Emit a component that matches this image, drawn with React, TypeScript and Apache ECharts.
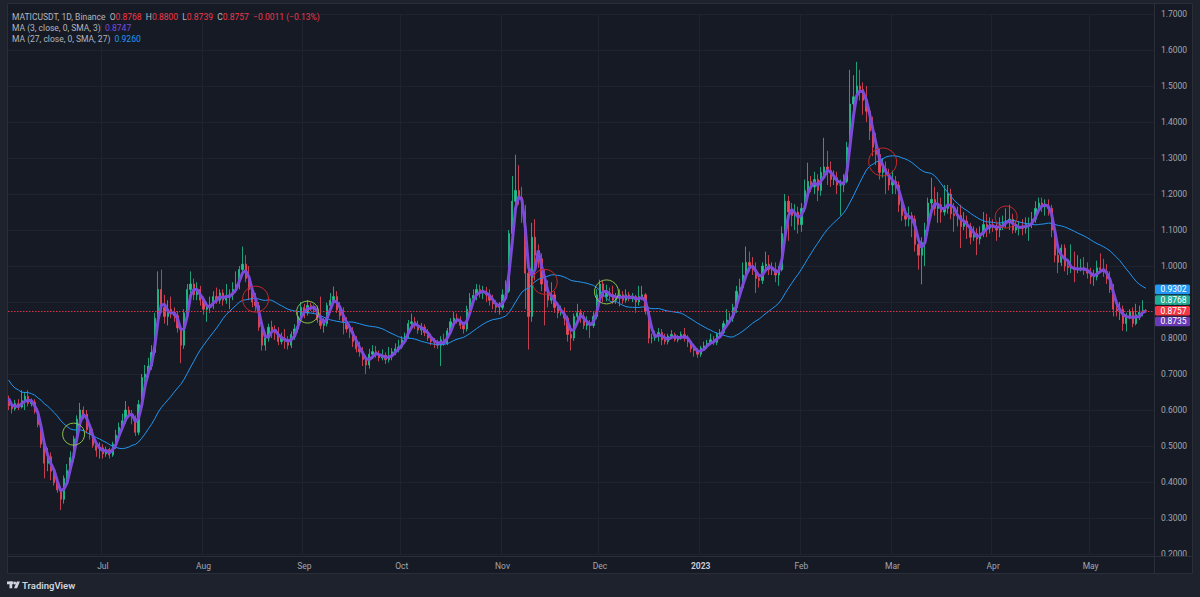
import React, { useEffect, useRef } from "react";
import * as echarts from "echarts";

// ---------- DATA ----------
const startDate = "2022-06-02";
const trailingEmptyDays = 2;

// closes before the first visible candle (May 7 – Jun 1 2022), used only for the moving averages
const warmupCloses = [
  0.96, 0.87, 0.74, 0.8, 0.65, 0.63, 0.7, 0.71, 0.76, 0.69, 0.72, 0.64, 0.67, 0.64, 0.65, 0.68,
  0.65, 0.65, 0.64, 0.59, 0.58, 0.6, 0.64, 0.69, 0.66, 0.625,
];

const closes = [
  // Jun 2 – Jun 30
  0.612, 0.603, 0.618, 0.608, 0.626, 0.638, 0.618, 0.622, 0.596, 0.56, 0.505, 0.452, 0.47, 0.43, 0.398, 0.378, 0.352, 0.41, 0.432, 0.468, 0.52, 0.575, 0.6, 0.588, 0.545, 0.532, 0.502, 0.488, 0.495,
  // Jul
  0.478, 0.49, 0.475, 0.505, 0.53, 0.552, 0.57, 0.6, 0.585, 0.58, 0.538, 0.615, 0.69, 0.7, 0.722, 0.76, 0.855, 0.935, 0.885, 0.86, 0.88, 0.868, 0.862, 0.828, 0.78, 0.87, 0.935, 0.95, 0.92, 0.935, 0.905,
  // Aug
  0.88, 0.885, 0.892, 0.915, 0.905, 0.925, 0.905, 0.918, 0.92, 0.935, 0.948, 0.99, 1.005, 0.965, 0.935, 0.9, 0.89, 0.83, 0.78, 0.8, 0.83, 0.822, 0.815, 0.79, 0.8, 0.795, 0.78, 0.81, 0.825, 0.86, 0.885,
  // Sep
  0.87, 0.89, 0.888, 0.88, 0.85, 0.835, 0.84, 0.89, 0.905, 0.915, 0.878, 0.862, 0.845, 0.825, 0.818, 0.79, 0.77, 0.762, 0.74, 0.725, 0.755, 0.762, 0.755, 0.745, 0.752, 0.74, 0.75, 0.762, 0.77, 0.775,
  // Oct
  0.795, 0.805, 0.84, 0.845, 0.835, 0.822, 0.83, 0.815, 0.8, 0.79, 0.788, 0.78, 0.795, 0.785, 0.82, 0.845, 0.855, 0.852, 0.835, 0.825, 0.88, 0.91, 0.918, 0.935, 0.925, 0.93, 0.92, 0.905, 0.895, 0.885, 0.885,
  // Nov
  0.92, 0.93, 1.09, 1.18, 1.21, 1.19, 1.15, 0.98, 0.86, 1.08, 1.03, 1.02, 0.95, 0.93, 0.905, 0.92, 0.885, 0.87, 0.875, 0.855, 0.81, 0.8, 0.86, 0.87, 0.86, 0.835, 0.84, 0.835, 0.86, 0.92,
  // Dec
  0.95, 0.915, 0.925, 0.92, 0.905, 0.915, 0.92, 0.905, 0.92, 0.91, 0.915, 0.9, 0.915, 0.92, 0.875, 0.8, 0.8, 0.81, 0.815, 0.795, 0.79, 0.805, 0.81, 0.795, 0.8, 0.81, 0.8, 0.79, 0.77, 0.765, 0.755,
  // Jan 2023
  0.772, 0.778, 0.785, 0.795, 0.788, 0.81, 0.815, 0.84, 0.85, 0.855, 0.885, 0.93, 0.94, 0.975, 1.01, 1.0, 0.99, 0.965, 0.96, 1.0, 1.005, 0.99, 0.99, 0.975, 0.99, 1.09, 1.18, 1.15, 1.14, 1.15, 1.115,
  // Feb
  1.16, 1.21, 1.235, 1.22, 1.24, 1.21, 1.26, 1.275, 1.265, 1.24, 1.245, 1.225, 1.225, 1.235, 1.33, 1.45, 1.47, 1.5, 1.49, 1.46, 1.43, 1.375, 1.33, 1.31, 1.26, 1.27, 1.255, 1.225,
  // Mar
  1.235, 1.225, 1.17, 1.14, 1.13, 1.14, 1.13, 1.06, 1.03, 1.065, 1.1, 1.175, 1.185, 1.16, 1.17, 1.15, 1.16, 1.2, 1.145, 1.14, 1.14, 1.11, 1.125, 1.11, 1.08, 1.09, 1.075, 1.09, 1.115, 1.105, 1.115,
  // Apr
  1.11, 1.1, 1.115, 1.12, 1.125, 1.13, 1.1, 1.11, 1.11, 1.105, 1.115, 1.115, 1.13, 1.16, 1.175, 1.165, 1.17, 1.16, 1.1, 1.03, 1.01, 1.05, 1.0, 0.995, 0.995, 0.99, 0.99, 0.995, 0.99, 0.98,
  // May 1 – May 18
  0.97, 0.97, 0.995, 0.99, 0.985, 0.965, 0.935, 0.88, 0.875, 0.88, 0.84, 0.86, 0.872, 0.84, 0.865, 0.8716, 0.8768, 0.8757,
];

const highs = [
  0.64, 0.62, 0.628, 0.63, 0.655, 0.65, 0.655, 0.632, 0.63, 0.605, 0.572, 0.512, 0.495, 0.482, 0.445, 0.412, 0.388, 0.418, 0.45, 0.485, 0.528, 0.585, 0.62, 0.61, 0.6, 0.562, 0.548, 0.512, 0.51,
  0.505, 0.498, 0.495, 0.512, 0.545, 0.565, 0.59, 0.625, 0.61, 0.6, 0.585, 0.628, 0.7, 0.725, 0.745, 0.78, 0.87, 0.985, 0.99, 0.92, 0.905, 0.915, 0.885, 0.875, 0.835, 0.88, 0.95, 0.985, 0.965, 0.955, 0.945,
  0.915, 0.9, 0.915, 0.93, 0.94, 0.935, 0.935, 0.95, 0.935, 0.955, 0.985, 1.0, 1.054, 1.03, 1.0, 0.945, 0.925, 0.9, 0.84, 0.815, 0.84, 0.848, 0.835, 0.83, 0.815, 0.825, 0.805, 0.818, 0.838, 0.875, 0.9,
  0.895, 0.905, 0.898, 0.893, 0.89, 0.915, 0.855, 0.898, 0.925, 0.943, 0.93, 0.9, 0.885, 0.858, 0.84, 0.83, 0.805, 0.79, 0.775, 0.752, 0.77, 0.78, 0.778, 0.765, 0.768, 0.76, 0.775, 0.772, 0.785, 0.795,
  0.805, 0.815, 0.85, 0.868, 0.858, 0.848, 0.842, 0.838, 0.825, 0.812, 0.8, 0.795, 0.805, 0.812, 0.828, 0.855, 0.872, 0.868, 0.86, 0.845, 0.89, 0.925, 0.935, 0.95, 0.948, 0.945, 0.942, 0.935, 0.92, 0.905, 0.9,
  0.935, 0.96, 1.1, 1.25, 1.309, 1.28, 1.22, 1.17, 1.01, 1.12, 1.13, 1.06, 1.035, 0.99, 0.96, 0.955, 0.93, 0.9, 0.89, 0.885, 0.862, 0.835, 0.868, 0.895, 0.88, 0.872, 0.86, 0.85, 0.872, 0.935,
  0.962, 0.958, 0.948, 0.94, 0.945, 0.925, 0.935, 0.93, 0.935, 0.928, 0.925, 0.92, 0.945, 0.945, 0.925, 0.885, 0.812, 0.82, 0.828, 0.825, 0.812, 0.812, 0.822, 0.815, 0.808, 0.818, 0.828, 0.808, 0.795, 0.78, 0.772,
  0.778, 0.79, 0.795, 0.812, 0.805, 0.815, 0.825, 0.848, 0.88, 0.87, 0.895, 0.945, 0.965, 1.01, 1.054, 1.04, 1.025, 1.01, 0.975, 1.01, 1.04, 1.03, 1.01, 1.01, 1.0, 1.11, 1.2, 1.195, 1.175, 1.172, 1.165,
  1.175, 1.24, 1.287, 1.25, 1.262, 1.255, 1.275, 1.356, 1.32, 1.29, 1.265, 1.262, 1.24, 1.255, 1.345, 1.545, 1.53, 1.567, 1.545, 1.51, 1.5, 1.44, 1.415, 1.37, 1.325, 1.3, 1.29, 1.27,
  1.265, 1.25, 1.235, 1.185, 1.16, 1.165, 1.15, 1.14, 1.075, 1.08, 1.12, 1.19, 1.245, 1.22, 1.205, 1.19, 1.225, 1.225, 1.215, 1.175, 1.165, 1.17, 1.15, 1.14, 1.12, 1.11, 1.105, 1.11, 1.15, 1.145, 1.135,
  1.13, 1.12, 1.135, 1.14, 1.16, 1.17, 1.145, 1.125, 1.125, 1.13, 1.135, 1.135, 1.15, 1.18, 1.19, 1.19, 1.185, 1.185, 1.17, 1.11, 1.045, 1.06, 1.06, 1.02, 1.06, 1.04, 1.03, 1.02, 1.025, 1.01,
  0.995, 0.99, 1.015, 1.035, 1.02, 1.005, 0.985, 0.95, 0.895, 0.9, 0.89, 0.87, 0.88, 0.885, 0.895, 0.89, 0.905, 0.88,
];

const lows = [
  0.6, 0.59, 0.598, 0.6, 0.604, 0.6, 0.61, 0.61, 0.59, 0.552, 0.495, 0.41, 0.43, 0.405, 0.39, 0.37, 0.322, 0.34, 0.395, 0.425, 0.455, 0.51, 0.565, 0.575, 0.535, 0.518, 0.495, 0.47, 0.465,
  0.465, 0.47, 0.465, 0.47, 0.492, 0.522, 0.545, 0.562, 0.578, 0.56, 0.528, 0.53, 0.6, 0.675, 0.69, 0.712, 0.752, 0.845, 0.87, 0.84, 0.835, 0.855, 0.845, 0.815, 0.73, 0.77, 0.86, 0.92, 0.905, 0.905, 0.89,
  0.865, 0.845, 0.87, 0.88, 0.895, 0.895, 0.89, 0.895, 0.88, 0.905, 0.925, 0.935, 0.98, 0.955, 0.905, 0.885, 0.875, 0.82, 0.765, 0.765, 0.79, 0.8, 0.795, 0.78, 0.782, 0.77, 0.768, 0.772, 0.795, 0.815, 0.85,
  0.855, 0.862, 0.875, 0.87, 0.842, 0.825, 0.815, 0.832, 0.88, 0.898, 0.87, 0.85, 0.81, 0.815, 0.8, 0.775, 0.76, 0.748, 0.722, 0.7, 0.715, 0.742, 0.745, 0.735, 0.738, 0.728, 0.732, 0.738, 0.752, 0.76,
  0.77, 0.785, 0.8, 0.832, 0.825, 0.812, 0.808, 0.805, 0.792, 0.78, 0.772, 0.77, 0.722, 0.778, 0.78, 0.812, 0.838, 0.84, 0.825, 0.812, 0.818, 0.872, 0.898, 0.905, 0.912, 0.908, 0.9, 0.89, 0.88, 0.87, 0.865,
  0.878, 0.905, 0.925, 1.08, 1.165, 1.17, 1.12, 0.88, 0.768, 0.845, 0.96, 0.995, 0.93, 0.835, 0.885, 0.895, 0.87, 0.855, 0.862, 0.835, 0.79, 0.765, 0.792, 0.85, 0.842, 0.825, 0.822, 0.8, 0.828, 0.852,
  0.905, 0.9, 0.902, 0.905, 0.895, 0.895, 0.888, 0.895, 0.898, 0.902, 0.9, 0.87, 0.89, 0.905, 0.865, 0.785, 0.785, 0.792, 0.79, 0.78, 0.782, 0.782, 0.798, 0.79, 0.788, 0.795, 0.79, 0.775, 0.76, 0.748, 0.745,
  0.748, 0.765, 0.77, 0.78, 0.78, 0.78, 0.805, 0.81, 0.835, 0.84, 0.845, 0.87, 0.915, 0.935, 0.965, 0.985, 0.975, 0.925, 0.94, 0.95, 0.99, 0.975, 0.975, 0.955, 0.945, 0.985, 1.08, 1.07, 1.11, 1.1, 1.09,
  1.095, 1.15, 1.195, 1.205, 1.2, 1.18, 1.195, 1.24, 1.225, 1.22, 1.225, 1.2, 1.14, 1.205, 1.23, 1.32, 1.42, 1.455, 1.46, 1.42, 1.4, 1.35, 1.305, 1.28, 1.24, 1.245, 1.2, 1.21,
  1.2, 1.2, 1.15, 1.125, 1.11, 1.11, 1.08, 1.04, 0.99, 0.949, 1.0, 1.085, 1.15, 1.14, 1.12, 1.12, 1.14, 1.145, 1.13, 1.095, 1.11, 1.05, 1.1, 1.075, 1.06, 1.07, 1.03, 1.06, 1.08, 1.08, 1.09,
  1.095, 1.07, 1.08, 1.1, 1.105, 1.1, 1.09, 1.092, 1.085, 1.085, 1.09, 1.07, 1.105, 1.12, 1.15, 1.15, 1.14, 1.14, 1.08, 1.01, 0.98, 1.0, 0.985, 0.975, 0.98, 0.955, 0.98, 0.985, 0.975, 0.965,
  0.95, 0.945, 0.96, 0.98, 0.97, 0.95, 0.925, 0.86, 0.86, 0.85, 0.82, 0.818, 0.852, 0.83, 0.835, 0.85, 0.86, 0.8739,
];

const monthLabels: Record<string, string> = {
  "2022-07": "Jul", "2022-08": "Aug", "2022-09": "Sep", "2022-10": "Oct", "2022-11": "Nov", "2022-12": "Dec",
  "2023-01": "2023", "2023-02": "Feb", "2023-03": "Mar", "2023-04": "Apr", "2023-05": "May",
};

const priceMin = 0.2;
const priceMax = 1.7;
const priceStep = 0.1;

// drawings on the chart (time, price)
const circleNotes = [
  { date: "2022-06-22", price: 0.533, r: 11, color: "#8bc34a" },
  { date: "2022-08-17", price: 0.908, r: 13, color: "#c62828" },
  { date: "2022-09-02", price: 0.872, r: 11, color: "#8bc34a" },
  { date: "2022-11-14", price: 0.956, r: 12.5, color: "#c62828" },
  { date: "2022-12-03", price: 0.928, r: 12, color: "#8bc34a" },
  { date: "2023-02-26", price: 1.289, r: 14, color: "#c62828" },
  { date: "2023-04-05", price: 1.136, r: 11, color: "#c62828" },
];

const lastPrice = 0.8757;
const axisBoxes = [
  { label: "0.9302", price: 0.9302, color: "#2196f3" },
  { label: "0.8768", price: 0.8768, color: "#22ab94" },
  { label: "0.8757", price: 0.8757, color: "#f23645" },
  { label: "0.8735", price: 0.8735, color: "#673ab7" },
];

const legendLines = [
  "{g|MATICUSDT, 1D, Binance}  {g|O}{r|0.8768}  {g|H}{r|0.8800}  {g|L}{r|0.8739}  {g|C}{r|0.8757}  {r|−0.0011 (−0.13%)}",
  "{g|MA (3, close, 0, SMA, 3)}  {p|0.8747}",
  "{g|MA (27, close, 0, SMA, 27)}  {b|0.9260}",
];

// ---------- helpers ----------
function addDays(start: string, n: number) {
  const d = new Date(start + "T00:00:00Z");
  d.setUTCDate(d.getUTCDate() + n);
  return d.toISOString().slice(0, 10);
}

function sma(all: number[], period: number, offset: number, count: number) {
  const out: (number | null)[] = [];
  for (let k = 0; k < count; k++) {
    const end = offset + k;
    if (end - period + 1 < 0) { out.push(null); continue; }
    let s = 0;
    for (let j = end - period + 1; j <= end; j++) s += all[j];
    out.push(+(s / period).toFixed(5));
  }
  return out;
}

const UP = "#22c38e";
const DOWN = "#f0475a";
const PANE = "#161a25";
const OUTER = "#1e222d";
const BORDER = "#2a2e39";
const FONT = "Roboto, 'Noto Sans', sans-serif";
const LF = `8.5px ${FONT}`;

export default function App() {
  const ref = useRef<HTMLDivElement>(null);

  useEffect(() => {
    const el = ref.current;
    if (!el) return;
    const chart = echarts.init(el, undefined, { renderer: "svg" });

    const n = closes.length;
    const dates: string[] = [];
    for (let k = 0; k < n + trailingEmptyDays; k++) dates.push(addDays(startDate, k));

    const candles: any[] = [];
    for (let k = 0; k < n; k++) {
      const o = k === 0 ? warmupCloses[warmupCloses.length - 1] : closes[k - 1];
      const c = closes[k];
      const h = Math.max(highs[k], o, c);
      const l = Math.min(lows[k], o, c);
      candles.push([o, c, l, h]);
    }
    for (let k = 0; k < trailingEmptyDays; k++) candles.push("-");

    const all = [...warmupCloses, ...closes];
    const ma3 = sma(all, 3, warmupCloses.length, n);
    const ma27 = sma(all, 27, warmupCloses.length, n);
    for (let k = 0; k < trailingEmptyDays; k++) { ma3.push(null); ma27.push(null); }

    const isMonthStart = (_i: number, v: string) => v.endsWith("-01") && monthLabels[v.slice(0, 7)] !== undefined;

    chart.setOption({
      animation: false,
      backgroundColor: PANE,
      textStyle: { fontFamily: FONT },
      grid: { left: 7, right: 46, top: 14, bottom: 43, containLabel: false },
      xAxis: {
        type: "category",
        data: dates,
        boundaryGap: true,
        axisLine: { show: false },
        axisTick: { show: false },
        axisLabel: {
          interval: isMonthStart,
          margin: 7,
          color: "#a3a6af",
          fontSize: 8.5,
          fontFamily: FONT,
          formatter: (v: string) => {
            const m = monthLabels[v.slice(0, 7)];
            return m === "2023" ? "{b|2023}" : m;
          },
          rich: { b: { fontWeight: "bold", color: "#c9ccd4", fontSize: 8.5, fontFamily: FONT } },
        },
        splitLine: { show: true, interval: isMonthStart, lineStyle: { color: "#1f2330", width: 1 } },
      },
      yAxis: {
        type: "value",
        position: "right",
        min: priceMin,
        max: priceMax,
        interval: priceStep,
        scale: true,
        axisLine: { show: false },
        axisTick: { show: false },
        axisLabel: {
          margin: 7,
          color: "#a3a6af",
          fontSize: 8.5,
          fontFamily: FONT,
          formatter: (v: number) => v.toFixed(4),
        },
        splitLine: { show: true, lineStyle: { color: "#1f2330", width: 1 } },
      },
      series: [
        {
          type: "candlestick",
          data: candles,
          barWidth: 1.7,
          itemStyle: { color: UP, color0: DOWN, borderColor: UP, borderColor0: DOWN, borderWidth: 0.8 },
          z: 2,
        },
        {
          type: "line",
          name: "MA27",
          data: ma27,
          showSymbol: false,
          symbol: "none",
          lineStyle: { color: "#2196f3", width: 1 },
          itemStyle: { color: "#2196f3" },
          z: 3,
          markPoint: {
            silent: true,
            label: { show: false },
            data: circleNotes.map((c) => ({
              coord: [c.date, c.price],
              symbol: "circle",
              symbolSize: c.r * 2,
              itemStyle: { color: "rgba(0,0,0,0)", borderColor: c.color, borderWidth: 1 },
            })),
          },
        },
        {
          type: "line",
          name: "MA3",
          data: ma3,
          showSymbol: false,
          symbol: "none",
          lineStyle: { color: "#7b4ad9", width: 3 },
          itemStyle: { color: "#7b4ad9" },
          z: 4,
        },
      ],
    });

    const yOf = (v: number) => chart.convertToPixel({ yAxisIndex: 0 }, v) as number;

    // last price dotted line across the pane
    const lastY = Math.round(yOf(lastPrice)) + 0.5;
    const priceLine = {
      type: "line",
      z: 120,
      silent: true,
      shape: { x1: 8, y1: lastY, x2: 1154, y2: lastY },
      style: { stroke: "#d8354a", lineWidth: 1, lineDash: [1.5, 1.5] },
    };

    // price labels on the axis, stacked around the last price
    const gap = 10.7;
    const anchorY = yOf(lastPrice);
    const sorted = [...axisBoxes].sort((a, b) => b.price - a.price);
    const anchorIdx = sorted.findIndex((b) => b.price === lastPrice);
    const ys: number[] = new Array(sorted.length);
    ys[anchorIdx] = anchorY;
    for (let i = anchorIdx - 1; i >= 0; i--) ys[i] = Math.min(yOf(sorted[i].price), ys[i + 1] - gap);
    for (let i = anchorIdx + 1; i < sorted.length; i++) ys[i] = Math.max(yOf(sorted[i].price), ys[i - 1] + gap);

    const boxGraphics = sorted.flatMap((b, i) => [
      {
        type: "rect",
        z: 200,
        shape: { x: 1155, y: ys[i] - 4.8, width: 35, height: 9.6, r: 1.5 },
        style: { fill: b.color },
      },
      {
        type: "text",
        z: 201,
        x: 1160.5,
        y: ys[i],
        style: { text: b.label, fill: "#ffffff", font: `8.5px ${FONT}`, verticalAlign: "middle" },
      },
    ]);

    const legendGraphics = legendLines.map((t, i) => ({
      type: "text",
      z: 210,
      x: 12,
      y: 16.7 + i * 11,
      style: {
        text: t,
        verticalAlign: "middle",
        font: LF,
        fill: "#b2b5be",
        rich: {
          g: { fill: "#b2b5be", font: LF },
          r: { fill: "#f23645", font: LF },
          p: { fill: "#7b4ad9", font: LF },
          b: { fill: "#2196f3", font: LF },
        },
      },
    }));

    const frame = [
      // outer strips
      { type: "rect", z: 150, shape: { x: 0, y: 0, width: 7, height: 597 }, style: { fill: OUTER } },
      { type: "rect", z: 150, shape: { x: 0, y: 0, width: 1200, height: 3 }, style: { fill: OUTER } },
      { type: "rect", z: 150, shape: { x: 1193, y: 0, width: 7, height: 597 }, style: { fill: OUTER } },
      { type: "rect", z: 150, shape: { x: 0, y: 574, width: 1200, height: 23 }, style: { fill: OUTER } },
      // frame lines
      { type: "line", z: 151, shape: { x1: 7.5, y1: 3.5, x2: 1192.5, y2: 3.5 }, style: { stroke: BORDER, lineWidth: 1 } },
      { type: "line", z: 151, shape: { x1: 7.5, y1: 3.5, x2: 7.5, y2: 573.5 }, style: { stroke: BORDER, lineWidth: 1 } },
      { type: "line", z: 151, shape: { x1: 1192.5, y1: 3.5, x2: 1192.5, y2: 573.5 }, style: { stroke: BORDER, lineWidth: 1 } },
      { type: "line", z: 151, shape: { x1: 7.5, y1: 573.5, x2: 1192.5, y2: 573.5 }, style: { stroke: BORDER, lineWidth: 1 } },
      { type: "line", z: 151, shape: { x1: 7.5, y1: 556.5, x2: 1192.5, y2: 556.5 }, style: { stroke: BORDER, lineWidth: 1 } },
      { type: "line", z: 151, shape: { x1: 1154.5, y1: 3.5, x2: 1154.5, y2: 573.5 }, style: { stroke: BORDER, lineWidth: 1 } },
      // TradingView logo
      { type: "rect", z: 160, shape: { x: 7, y: 581.5, width: 6.4, height: 2.7 }, style: { fill: "#d1d4dc" } },
      { type: "rect", z: 160, shape: { x: 9.5, y: 581.5, width: 2.7, height: 6.8 }, style: { fill: "#d1d4dc" } },
      { type: "circle", z: 160, shape: { cx: 14.8, cy: 583, r: 1.4 }, style: { fill: "#d1d4dc" } },
      {
        type: "polygon", z: 160,
        shape: { points: [[16.8, 581.5], [19.9, 581.5], [17.1, 588.3], [14.0, 588.3]] },
        style: { fill: "#d1d4dc" },
      },
      {
        type: "text", z: 160, x: 22, y: 585,
        style: { text: "TradingView", fill: "#d1d4dc", font: `600 9.5px ${FONT}`, verticalAlign: "middle" },
      },
    ];

    chart.setOption({ graphic: [priceLine, ...frame, ...boxGraphics, ...legendGraphics] });

    return () => chart.dispose();
  }, []);

  return (
    <div style={{ position: "fixed", left: 0, top: 0, width: 1200, height: 597, background: OUTER }}>
      <div ref={ref} style={{ width: 1200, height: 597 }} />
    </div>
  );
}
